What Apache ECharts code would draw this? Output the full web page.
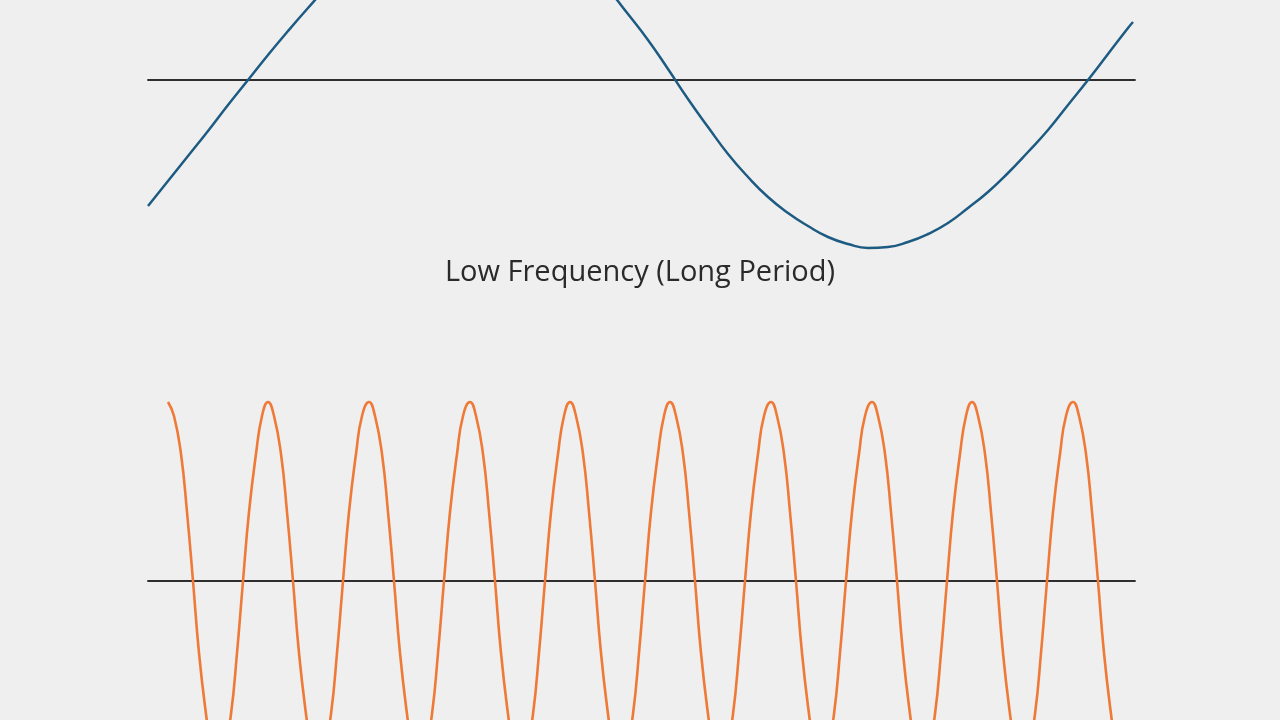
<!DOCTYPE html>
<html>
<head>
<meta charset="utf-8">
<script src="https://cdn.jsdelivr.net/npm/echarts@6/dist/echarts.min.js"></script>
<style>
html,body{margin:0;padding:0;background:#efefef;}
#chart{width:1280px;height:720px;}
</style>
</head>
<body>
<div id="chart"></div>
<script>
// Low-frequency wave (top): time offset and displacement
var lowT = [0, 20, 40, 60, 80, 100, 120, 140, 160, 180, 200, 220, 240, 260, 280, 300, 320, 340, 360, 380,
  400, 420, 440, 460, 480, 500, 520, 540, 560, 580, 600, 620, 640, 660, 680, 700, 720, 740, 760, 780,
  800, 820, 840, 860, 880, 900, 920, 940, 960, 980, 985];
var lowY = [-126, -101, -76, -51, -25, 0, 25, 49, 72, 94, 113, 129, 143, 154, 162, 167, 168, 167, 162, 155,
  144, 130, 113, 91, 66, 40, 11, -19, -47, -74, -97, -117, -133, -146, -157, -164, -168, -167, -162, -154,
  -143, -128, -112, -93, -72, -50, -25, 0, 26, 52, 58];

// High-frequency wave (bottom)
var highT = [20, 26, 33, 39, 45, 51, 58, 64, 70, 76, 83, 89, 95, 101, 108, 114,
  120, 126, 133, 139, 145, 151, 158, 164, 170, 176, 183, 189, 195, 201, 208, 214,
  221, 227, 234, 240, 246, 252, 259, 265, 271, 277, 284, 290, 296, 302, 309, 315,
  322, 328, 335, 341, 347, 353, 360, 366, 372, 378, 385, 391, 397, 403, 410, 416,
  422, 428, 435, 441, 447, 453, 460, 466, 472, 478, 485, 491, 497, 503, 510, 516,
  522, 528, 535, 541, 547, 553, 560, 566, 572, 578, 585, 591, 597, 603, 610, 616,
  623, 629, 636, 642, 648, 654, 661, 667, 673, 679, 686, 692, 698, 704, 711, 717,
  724, 730, 737, 743, 749, 755, 762, 768, 774, 780, 787, 793, 799, 805, 812, 818,
  824, 830, 837, 843, 849, 855, 862, 868, 874, 880, 887, 893, 899, 905, 912, 918,
  925, 931, 938, 944, 950, 956, 963, 969, 975];
var highY = [179, 165, 127, 69, 0, -72, -133, -173, -188, -173, -133, -72, 0, 69, 127, 165,
  179, 165, 127, 69, 0, -72, -133, -173, -188, -173, -133, -72, 0, 69, 127, 165,
  179, 165, 127, 69, 0, -72, -133, -173, -188, -173, -133, -72, 0, 69, 127, 165,
  179, 165, 127, 69, 0, -72, -133, -173, -188, -173, -133, -72, 0, 69, 127, 165,
  179, 165, 127, 69, 0, -72, -133, -173, -188, -173, -133, -72, 0, 69, 127, 165,
  179, 165, 127, 69, 0, -72, -133, -173, -188, -173, -133, -72, 0, 69, 127, 165,
  179, 165, 127, 69, 0, -72, -133, -173, -188, -173, -133, -72, 0, 69, 127, 165,
  179, 165, 127, 69, 0, -72, -133, -173, -188, -173, -133, -72, 0, 69, 127, 165,
  179, 165, 127, 69, 0, -72, -133, -173, -188, -173, -133, -72, 0, 69, 127, 165,
  179, 165, 127, 69, 0, -72, -133, -173, -188];

var titleText = 'Low Frequency (Long Period)';

function pairs(xs, ys){ return xs.map(function(x,i){ return [x, ys[i]]; }); }

var chart = echarts.init(document.getElementById('chart'));
var axisLine = {show:true, onZero:true, lineStyle:{color:'#2e2e2e', width:1.8}};
chart.setOption({
  backgroundColor:'#efefef',
  animation:false,
  title:{
    text:titleText, left:'center', top:253,
    textStyle:{fontFamily:'Open Sans', fontSize:29, fontWeight:'normal', color:'#2a2a2a'}
  },
  grid:[
    {left:148, right:145, top:0, height:260},
    {left:148, right:145, top:340, bottom:0}
  ],
  xAxis:[
    {type:'value', gridIndex:0, min:0, max:987, axisLine:axisLine, axisTick:{show:false}, axisLabel:{show:false}, splitLine:{show:false}},
    {type:'value', gridIndex:1, min:0, max:987, axisLine:axisLine, axisTick:{show:false}, axisLabel:{show:false}, splitLine:{show:false}}
  ],
  yAxis:[
    {type:'value', gridIndex:0, min:-180, max:80, show:false},
    {type:'value', gridIndex:1, min:-139, max:241, show:false}
  ],
  series:[
    {type:'line', xAxisIndex:0, yAxisIndex:0, data:pairs(lowT, lowY), smooth:0.5, showSymbol:false, clip:true,
     lineStyle:{color:'#1d5b82', width:2.5}},
    {type:'line', xAxisIndex:1, yAxisIndex:1, data:pairs(highT, highY), smooth:0.5, showSymbol:false, clip:true,
     lineStyle:{color:'#ef7a38', width:2.6}}
  ]
});
</script>
</body>
</html>
